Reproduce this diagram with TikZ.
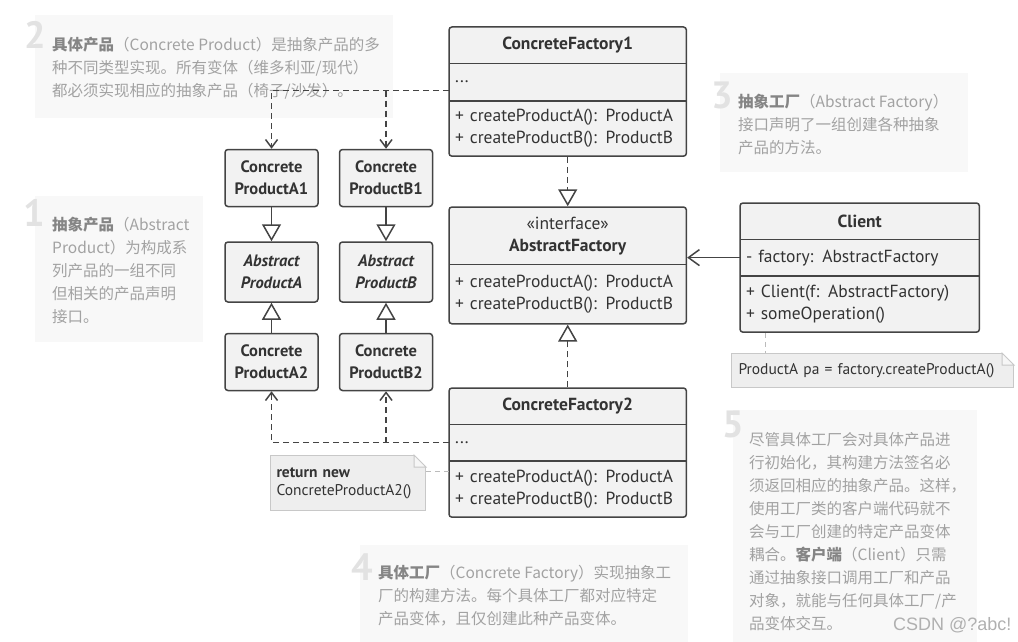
\documentclass[tikz,border=0pt]{standalone}
\usepackage{fontspec}
\setmainfont{PT Sans}
\newfontfamily\cjk{Noto Sans CJK SC}
\newfontfamily\wmfont{Liberation Sans}
\usepackage{xcolor}
\definecolor{boxbg}{HTML}{F2F2F2}
\definecolor{boxbd}{HTML}{444444}
\definecolor{boxtx}{HTML}{333333}
\definecolor{annobg}{HTML}{F8F8F8}
\definecolor{annotx}{HTML}{A2A2A2}
\definecolor{annobf}{HTML}{858585}
\definecolor{annonum}{HTML}{E2E2E2}
\definecolor{notebg}{HTML}{EEEEEE}
\definecolor{notebd}{HTML}{C8C8C8}
\definecolor{notefold}{HTML}{F6F6F6}
\definecolor{noteln}{HTML}{BBBBBB}
\definecolor{wmgray}{HTML}{B0B0B0}
\newcommand{\clsfont}{\fontsize{17.5pt}{22pt}\selectfont}
\newcommand{\prodfont}{\fontsize{16.5pt}{22pt}\selectfont}
\newcommand{\notefont}{\fontsize{15.5pt}{18pt}\selectfont}
\newcommand{\annofont}{\cjk\fontsize{15.5pt}{23pt}\selectfont}
\newcommand{\annobold}[1]{\textcolor{annobf}{\textbf{#1}}}
\usetikzlibrary{positioning, arrows.meta, fit}

\begin{document}
\begin{tikzpicture}[
  x=1pt, y=-1pt,
  node distance=0pt,
  hdr/.style={fill=boxbg, minimum width=237pt, font=\clsfont, text=boxtx, align=center},
  sect/.style={fill=boxbg, text width=225pt, inner xsep=6pt, font=\clsfont, text=boxtx, align=left},
  outline/.style={draw=boxbd, line width=1.5pt, rounded corners=3pt, inner sep=0pt},
  sep/.style={draw=boxbd, line width=1.5pt},
  prod/.style={draw=boxbd, fill=boxbg, line width=1.5pt, rounded corners=3pt, minimum width=93pt,
              minimum height=57pt, font=\prodfont\bfseries, text=boxtx, align=center},
  inherit/.style={draw=boxbd, line width=1.5pt, -{Triangle[open, length=17pt, width=19pt, fill=white]}},
  realize/.style={inherit, dash pattern=on 6pt off 4pt},
  depend/.style={draw=boxbd, line width=1.5pt, dash pattern=on 6pt off 4pt, -{Straight Barb[length=8pt, width=12pt]}},
  assoc/.style={draw=boxbd, line width=1.5pt, -{Straight Barb[length=11pt, width=16pt]}},
  note/.style={fill=notebg, draw=notebd, line width=1pt, font=\notefont, text=boxtx, align=left},
  noteline/.style={draw=noteln, line width=1.2pt, dash pattern=on 5pt off 4pt},
  num/.style={font=\fontsize{38pt}{38pt}\selectfont\bfseries, text=annonum},
  anno/.style={font=\annofont, text=annotx, align=left, inner sep=0pt, anchor=north west},
]
\useasboundingbox (0,0) rectangle (1018,642);

% Annotations
\fill[annobg] (35,15) rectangle (393,118);
\node[num] (n2) at (35,35) {2};
\node[anno] (t2) at (52,37) {\annobold{具体产品}（Concrete Product）是抽象产品的多\\种不同类型实现。所有变体（维多利亚/现代）\\都必须实现相应的抽象产品（椅子/沙发）。};

\fill[annobg] (35,196) rectangle (203,342);
\node[num] (n1) at (34,213) {1};
\node[anno] (t1) at (52,217) {\annobold{抽象产品}（Abstract\\Product）为构成系\\列产品的一组不同\\但相关的产品声明\\接口。};

\fill[annobg] (720,73) rectangle (968,172);
\node[num] (n3) at (722,95) {3};
\node[anno] (t3) at (738,94) {\annobold{抽象工厂}（Abstract Factory）\\接口声明了一组创建各种抽象\\产品的方法。};

\fill[annobg] (360,545) rectangle (688,642);
\node[num] (n4) at (362,567) {4};
\node[anno] (t4) at (378,565) {\annobold{具体工厂}（Concrete Factory）实现抽象工\\厂的构建方法。每个具体工厂都对应特定\\产品变体，且仅创建此种产品变体。};

\fill[annobg] (733,410) rectangle (977,642);
\node[num] (n5) at (733,424) {5};
\node[anno] (t5) at (749,432) {尽管具体工厂会对具体产品进\\行初始化，其构建方法签名必\\须返回相应的抽象产品。这样，\\使用工厂类的客户端代码就不\\会与工厂创建的特定产品变体\\耦合。\annobold{客户端}（Client）只需\\通过抽象接口调用工厂和产品\\对象，就能与任何具体工厂/产\\品变体交互。};

% ConcreteFactory1
\node[hdr, minimum height=36pt, anchor=north west] (cf1h) at (449,27) {\textbf{ConcreteFactory1}};
\node[sect, minimum height=37pt, below=of cf1h] (cf1a) {...};
\node[sect, minimum height=55pt, below=of cf1a] (cf1m) {+ createProductA(): ProductA\\+ createProductB(): ProductB};
\node[outline, fit=(cf1h)(cf1m)] (cf1) {};
\draw[sep] (cf1a.north west) -- (cf1a.north east) (cf1m.north west) -- (cf1m.north east);

% AbstractFactory
\node[hdr, minimum height=57pt, anchor=north west] (afh) at (449,207) {«interface»\\\textbf{AbstractFactory}};
\node[sect, minimum height=59pt, below=of afh] (afm) {+ createProductA(): ProductA\\+ createProductB(): ProductB};
\node[outline, fit=(afh)(afm)] (af) {};
\draw[sep] (afm.north west) -- (afm.north east);

% ConcreteFactory2
\node[hdr, minimum height=36pt, anchor=north west] (cf2h) at (449,388) {\textbf{ConcreteFactory2}};
\node[sect, minimum height=36pt, below=of cf2h] (cf2a) {...};
\node[sect, minimum height=56pt, below=of cf2a] (cf2m) {+ createProductA(): ProductA\\+ createProductB(): ProductB};
\node[outline, fit=(cf2h)(cf2m)] (cf2) {};
\draw[sep] (cf2a.north west) -- (cf2a.north east) (cf2m.north west) -- (cf2m.north east);

% Client
\node[hdr, minimum width=239pt, minimum height=36pt, anchor=north west] (clh) at (740,203) {\textbf{Client}};
\node[sect, text width=227pt, minimum height=36pt, below=of clh] (cla) {- factory: AbstractFactory};
\node[sect, text width=227pt, minimum height=56pt, below=of cla] (clm) {+ Client(f: AbstractFactory)\\+ someOperation()};
\node[outline, fit=(clh)(clm)] (cl) {};
\draw[sep] (cla.north west) -- (cla.north east) (clm.north west) -- (clm.north east);

% Products
\node[prod] (ca1) at (271.5,178) {Concrete\\ProductA1};
\node[prod, minimum height=60pt, below=34pt of ca1, font=\prodfont\bfseries\itshape] (aa) {Abstract\\ProductA};
\node[prod, below=30pt of aa] (ca2) {Concrete\\ProductA2};
\node[prod, right=20pt of ca1] (cb1) {Concrete\\ProductB1};
\node[prod, minimum height=60pt, below=34pt of cb1, font=\prodfont\bfseries\itshape] (ab) {Abstract\\ProductB};
\node[prod, below=30pt of ab] (cb2) {Concrete\\ProductB2};

% Notes
\node[note, anchor=north west, minimum width=282pt, minimum height=34pt, text width=268pt, inner xsep=7pt] (cln) at (731,353) {ProductA pa = factory.createProductA()};
\fill[white] ([xshift=-12pt]cln.north east) -- (cln.north east) -- ([yshift=-12pt]cln.north east) -- cycle;
\draw[notebd, line width=1pt, fill=notefold] ([xshift=-12pt]cln.north east) -- ([xshift=-12pt,yshift=-12pt]cln.north east) -- ([yshift=-12pt]cln.north east) -- cycle;

\node[note, anchor=north west, minimum width=155pt, minimum height=55pt, text width=143pt, inner xsep=6pt] (rn) at (270,455) {\textbf{return new}\\ConcreteProductA2()};
\fill[white] ([xshift=-12pt]rn.north east) -- (rn.north east) -- ([yshift=-12pt]rn.north east) -- cycle;
\draw[notebd, line width=1pt, fill=notefold] ([xshift=-12pt]rn.north east) -- ([xshift=-12pt,yshift=-12pt]rn.north east) -- ([yshift=-12pt]rn.north east) -- cycle;

% Connectors
\draw[inherit] (ca1.south) -- (aa.north);
\draw[inherit] (ca2.north) -- (aa.south);
\draw[inherit] (cb1.south) -- (ab.north);
\draw[inherit] (cb2.north) -- (ab.south);
\draw[realize] (cf1.south) -- (af.north);
\draw[realize] (cf2.north) -- (af.south);
\draw[assoc] (cla.west) -- (cla.west -| af.east);

\coordinate (d1) at ([yshift=-8.5pt]cf1a.west);
\draw[depend] (d1) -| (ca1.north);
\draw[depend] (d1 -| cb1.north) -- (cb1.north);
\draw[depend] (cf2a.west) -| (ca2.south);
\draw[depend] (cf2a.west -| cb2.south) -- (cb2.south);

\coordinate (cnt) at ([xshift=26pt]cl.south west);
\draw[noteline] (cnt) -- (cnt |- cln.north);
\coordinate (rnt) at ([yshift=11.5pt]rn.east);
\draw[noteline] (rnt) -- (rnt -| cf2m.west);

% Watermark
\node[font=\wmfont\fontsize{18pt}{18pt}\selectfont, text=wmgray, anchor=east] (wm) at (1015,625) {CSDN @?abc!};
\end{tikzpicture}
\end{document}
